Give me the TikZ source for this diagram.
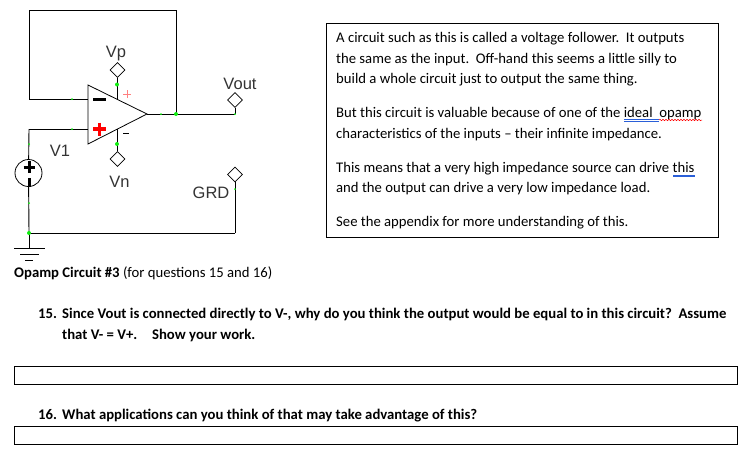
\documentclass[tikz,border=0pt]{standalone}
\usepackage{xcolor}
\usepackage{fontspec}
\setmainfont{Carlito}
\newfontfamily\schfont{Liberation Sans}
\usetikzlibrary{shapes, decorations.pathmorphing}
\definecolor{dotgreen}{HTML}{11EE11}
\definecolor{spellblue}{HTML}{2A5FD8}

\tikzset{
  wire/.style={line width=0.9pt},
  box/.style={line width=0.9pt},
  pin/.style={diamond,draw,line width=0.6pt,fill=white,minimum size=15pt,inner sep=0pt},
  source/.style={circle,draw,line width=0.8pt,minimum size=27pt,inner sep=0pt},
  big dot/.style={circle,fill=dotgreen,minimum size=4pt,inner sep=0pt},
  small dot/.style={circle,fill=dotgreen,minimum size=2pt,inner sep=0pt},
  sch label/.style={font=\schfont\fontsize{16.5}{16.5}\selectfont,text=black!80,inner sep=0pt},
  body/.style={anchor=base west,inner sep=0pt,font=\fontsize{14.7}{16}\selectfont},
  ask/.style={anchor=base west,inner sep=0pt,font=\bfseries\fontsize{14.73}{16}\selectfont}
}

\begin{document}
\begin{tikzpicture}[x=1pt,y=-1pt]
    \useasboundingbox (0,0) rectangle (750,456);

    % opamp
    \coordinate (tl) at (88,85);
    \coordinate (bl) at (88,144);
    \coordinate (tip) at (147,114);
    \coordinate (top) at (117.5,99);
    \coordinate (bot) at (117.5,129);
    \coordinate (inm) at (88,99);
    \coordinate (inp) at (88,129);
    \draw[line width=0.8pt] (tl) -- (bl) -- (tip) -- cycle;

    % corners
    \coordinate (fb1) at (29,99);
    \coordinate (fb2) at (29,10);
    \coordinate (fb3) at (176,10);
    \coordinate (jout) at (176,114);
    \coordinate (in1) at (29,129);
    \coordinate (jgnd) at (29,233);
    \coordinate (gnd1) at (235,233);
    \coordinate (vout1) at (235,114);

    % pins and source
    \node[pin] (vp) at (117.5,70) {};
    \node[pin] (vn) at (117.5,159) {};
    \node[pin] (vout) at (235,100) {};
    \node[pin] (grd) at (235,174.5) {};
    \node[source] (v1) at (28.5,173) {};

    % ground
    \coordinate (g0) at (29,248);
    \coordinate (g1a) at (14,248);
    \coordinate (g1b) at (45,248);
    \coordinate (g2a) at (20,254);
    \coordinate (g2b) at (39,254);
    \coordinate (g3a) at (25,260);
    \coordinate (g3b) at (33,260);

    \path[wire]
        (vp) edge (top)
        (vn) edge (bot)
        (tip) edge (vout1)
        (vout1) edge (vout)
        (jout) edge (fb3)
        (fb3) edge (fb2)
        (fb2) edge (fb1)
        (fb1) edge (inm)
        (inp) edge (in1)
        (in1) edge (v1)
        (v1) edge (jgnd)
        (jgnd) edge (g0)
        (jgnd) edge (gnd1)
        (gnd1) edge (grd)
        (g1a) edge (g1b)
        (g2a) edge (g2b)
        (g3a) edge (g3b)
    ;

    % dots
    \node[big dot] (d1) at (117,84.5) {};
    \node[big dot] (d2) at (117,144) {};
    \node[big dot] (d3) at (jout) {};
    \node[big dot] (d4) at (jgnd) {};
    \node[small dot] (d5) at (72,99) {};
    \node[small dot] (d6) at (72,129) {};
    \node[small dot] (d7) at (161,114) {};
    \node[small dot] (d8) at (29,144) {};
    \node[small dot] (d9) at (29,203) {};
    \node[small dot] (d10) at (235,189) {};
    \node[small dot] (d11) at (vout1) {};

    % polarity marks
    \draw[line width=3pt] (93,99) -- (106,99);
    \draw[red,line width=3.5pt] (93,129) -- (106,129) (99.5,122.5) -- (99.5,135.5);
    \draw[red!50,line width=0.6pt] (123,94) -- (131,94) (127,90) -- (127,98);
    \draw[line width=0.7pt] (123,133) -- (129,133);
    \draw[line width=3pt] (23.5,167) -- (34.5,167) (29,161) -- (29,173) (29,178) -- (29,187);

    % labels
    \node[sch label] (lvp) at (116,54) {Vp};
    \node[sch label] (lvout) at (240,83.5) {Vout};
    \node[sch label] (lv1) at (60,151) {V1};
    \node[sch label] (lvn) at (119.5,182) {Vn};
    \node[sch label] (lgrd) at (211,193) {GRD};

    % text box
    \draw[box] (326.5,23.5) rectangle (718.5,237.5);
    \node[body] (t1) at (336,42) {A circuit such as this is called a voltage follower.\ \ It outputs};
    \node[body] (t2) at (336,63) {the same as the input.\ \ Off-hand this seems a little silly to};
    \node[body] (t3) at (336,83) {build a whole circuit just to output the same thing.};
    \node[body] (t4) at (336,117) {But this circuit is valuable because of one of the ideal\ \ opamp};
    \node[body] (t5) at (336,138) {characteristics of the inputs -- their infinite impedance.};
    \node[body] (t6) at (336,172) {This means that a very high impedance source can drive this};
    \node[body] (t7) at (336,192) {and the output can drive a very low impedance load.};
    \node[body] (t8) at (336,226) {See the appendix for more understanding of this.};

    % proofing marks
    \draw[spellblue,line width=0.5pt] (624,119.5) -- (659,119.5) (624,121) -- (659,121);
    \draw[spellblue,line width=0.5pt] (673,175) -- (695,175) (673,176.5) -- (695,176.5);
    \draw[red,line width=0.5pt,decorate,decoration={snake,amplitude=0.7pt,segment length=3pt}] (659,120) -- (702,120);

    % caption and questions
    \node[body] (cap) at (14,277) {\textbf{Opamp Circuit \#3} (for questions 15 and 16)};
    \node[ask] (n15) at (38,318) {15.};
    \node[ask] (q15a) at (62,318) {Since Vout is connected directly to V-, why do you think the output would be equal to in this circuit?\ \ Assume};
    \node[ask] (q15b) at (62,339) {that V- = V+.\quad Show your work.};
    \node[ask] (n16) at (38,419) {16.};
    \node[ask] (q16) at (62,419) {What applications can you think of that may take advantage of this?};

    % answer boxes
    \draw[box] (14,366.5) rectangle (737,384);
    \draw[box] (14,426.5) rectangle (737,444);
\end{tikzpicture}
\end{document}
